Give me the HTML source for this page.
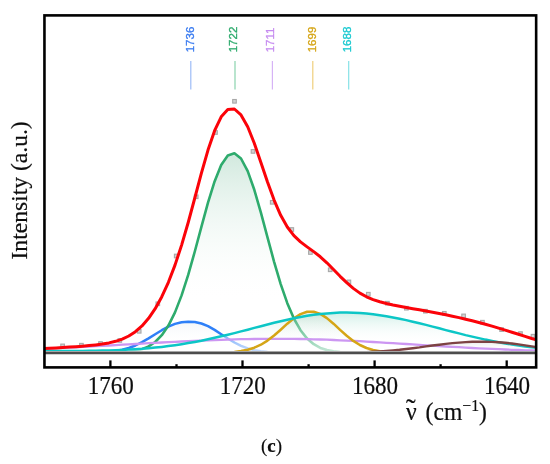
<!DOCTYPE html>
<html><head><meta charset="utf-8"><title>Figure (c)</title>
<style>
html,body{margin:0;padding:0;background:#fff;}
body{width:550px;height:464px;overflow:hidden;position:relative;font-family:"Liberation Serif",serif;}
svg{position:absolute;left:0;top:0;display:block;}
text{font-family:"Liberation Serif",serif;fill:#0d0d0d;stroke:#0d0d0d;stroke-width:0.2px;}
.pk text,text.pk{font-family:"Liberation Sans",sans-serif;font-size:11.5px;}
</style></head><body>
<svg width="550" height="464" viewBox="0 0 550 464">
<defs>
<clipPath id="cp"><rect x="44.45" y="15.4" width="491.65" height="352.00"/></clipPath>
<clipPath id="cp2"><rect x="44.45" y="15.4" width="491.65" height="335.60"/></clipPath>
<linearGradient id="g_blue" x1="0" y1="0" x2="0" y2="1"><stop offset="0" stop-color="#8fa8c8" stop-opacity="0.1"/><stop offset="0.75" stop-color="#ffffff" stop-opacity="0.0"/></linearGradient>
<linearGradient id="g_green" x1="0" y1="0" x2="0" y2="1"><stop offset="0" stop-color="#2e9a68" stop-opacity="0.22"/><stop offset="0.75" stop-color="#ffffff" stop-opacity="0.0"/></linearGradient>
<linearGradient id="g_purple" x1="0" y1="0" x2="0" y2="1"><stop offset="0" stop-color="#b090d0" stop-opacity="0.0"/><stop offset="0.75" stop-color="#ffffff" stop-opacity="0.0"/></linearGradient>
<linearGradient id="g_yellow" x1="0" y1="0" x2="0" y2="1"><stop offset="0" stop-color="#9ab090" stop-opacity="0.2"/><stop offset="0.75" stop-color="#ffffff" stop-opacity="0.0"/></linearGradient>
<linearGradient id="g_cyan" x1="0" y1="0" x2="0" y2="1"><stop offset="0" stop-color="#40c0a0" stop-opacity="0.24"/><stop offset="0.75" stop-color="#ffffff" stop-opacity="0.0"/></linearGradient>
<linearGradient id="g_brown" x1="0" y1="0" x2="0" y2="1"><stop offset="0" stop-color="#808080" stop-opacity="0.18"/><stop offset="0.75" stop-color="#ffffff" stop-opacity="0.0"/></linearGradient>
<linearGradient id="g_white" x1="0" y1="0" x2="0" y2="1"><stop offset="0" stop-color="#fff" stop-opacity="0"/><stop offset="0.25" stop-color="#fff" stop-opacity="0.15"/><stop offset="1" stop-color="#fff" stop-opacity="0.75"/></linearGradient>
</defs>
<rect width="550" height="464" fill="#fff"/>
<g clip-path="url(#cp)">
<g fill="#d2d2d2" stroke="#a8a8a8" stroke-width="1.1">
<rect x="60.8" y="344.1" width="3.6" height="3.6"/>
<rect x="79.6" y="343.4" width="3.6" height="3.6"/>
<rect x="98.7" y="341.7" width="3.6" height="3.6"/>
<rect x="118.0" y="338.7" width="3.6" height="3.6"/>
<rect x="137.4" y="329.5" width="3.6" height="3.6"/>
<rect x="156.0" y="302.0" width="3.6" height="3.6"/>
<rect x="174.4" y="254.2" width="3.6" height="3.6"/>
<rect x="194.4" y="195.0" width="3.6" height="3.6"/>
<rect x="213.7" y="130.7" width="3.6" height="3.6"/>
<rect x="232.7" y="99.5" width="3.6" height="3.6"/>
<rect x="251.2" y="149.6" width="3.6" height="3.6"/>
<rect x="270.4" y="200.5" width="3.6" height="3.6"/>
<rect x="290.0" y="227.7" width="3.6" height="3.6"/>
<rect x="308.6" y="250.7" width="3.6" height="3.6"/>
<rect x="328.4" y="268.0" width="3.6" height="3.6"/>
<rect x="347.1" y="280.1" width="3.6" height="3.6"/>
<rect x="366.5" y="292.4" width="3.6" height="3.6"/>
<rect x="385.6" y="301.4" width="3.6" height="3.6"/>
<rect x="404.6" y="306.4" width="3.6" height="3.6"/>
<rect x="423.6" y="309.4" width="3.6" height="3.6"/>
<rect x="442.5" y="311.5" width="3.6" height="3.6"/>
<rect x="461.8" y="314.1" width="3.6" height="3.6"/>
<rect x="480.6" y="320.4" width="3.6" height="3.6"/>
<rect x="499.8" y="327.8" width="3.6" height="3.6"/>
<rect x="518.7" y="331.8" width="3.6" height="3.6"/>
<rect x="531.2" y="334.4" width="3.6" height="3.6"/>
</g>
<g clip-path="url(#cp2)">
<path d="M36.3,352.8 L42.9,352.8 L49.5,352.8 L56.1,352.8 L62.7,352.8 L69.3,352.8 L75.9,352.8 L82.5,352.8 L89.1,352.7 L95.7,352.6 L102.3,352.3 L108.9,351.9 L115.6,351.1 L122.2,349.8 L128.8,348.0 L135.4,345.5 L142.0,342.2 L148.6,338.4 L155.2,334.3 L161.8,330.2 L168.4,326.7 L175.0,323.9 L181.6,322.2 L188.2,321.7 L194.8,322.0 L201.4,323.5 L208.0,326.2 L214.6,329.9 L221.2,334.2 L227.8,338.5 L234.4,342.5 L241.0,345.8 L247.7,348.4 L254.3,350.2 L260.9,351.3 L267.5,352.0 L274.1,352.4 L280.7,352.6 L287.3,352.7 L293.9,352.8 L300.5,352.8 L307.1,352.8 L313.7,352.8 L320.3,352.8 L326.9,352.8 L333.5,352.8 L340.1,352.8 L346.7,352.8 L353.3,352.8 L359.9,352.8 L366.5,352.8 L373.1,352.8 L379.8,352.8 L386.4,352.8 L393.0,352.8 L399.6,352.8 L406.2,352.8 L412.8,352.8 L419.4,352.8 L426.0,352.8 L432.6,352.8 L439.2,352.8 L445.8,352.8 L452.4,352.8 L459.0,352.8 L465.6,352.8 L472.2,352.8 L478.8,352.8 L485.4,352.8 L492.0,352.8 L498.6,352.8 L505.2,352.8 L511.9,352.8 L518.5,352.8 L525.1,352.8 L531.7,352.8 L538.3,352.8 L544.9,352.8 L544.9,352.8 L36.3,352.8 Z" fill="url(#g_blue)" stroke="none"/>
<path d="M36.3,352.8 L42.9,352.8 L49.5,352.8 L56.1,352.8 L62.7,352.8 L69.3,352.8 L75.9,352.8 L82.5,352.8 L89.1,352.7 L95.7,352.6 L102.3,352.3 L108.9,351.9 L115.6,351.1 L122.2,349.8 L128.8,348.0 L135.4,345.5 L142.0,342.2 L148.6,338.4 L155.2,334.3 L161.8,330.2 L168.4,326.7 L175.0,323.9 L181.6,322.2 L188.2,321.7 L194.8,322.0 L201.4,323.5 L208.0,326.2 L214.6,329.9 L221.2,334.2 L227.8,338.5 L234.4,342.5 L241.0,345.8 L247.7,348.4 L254.3,350.2 L260.9,351.3 L267.5,352.0 L274.1,352.4 L280.7,352.6 L287.3,352.7 L293.9,352.8 L300.5,352.8 L307.1,352.8 L313.7,352.8 L320.3,352.8 L326.9,352.8 L333.5,352.8 L340.1,352.8 L346.7,352.8 L353.3,352.8 L359.9,352.8 L366.5,352.8 L373.1,352.8 L379.8,352.8 L386.4,352.8 L393.0,352.8 L399.6,352.8 L406.2,352.8 L412.8,352.8 L419.4,352.8 L426.0,352.8 L432.6,352.8 L439.2,352.8 L445.8,352.8 L452.4,352.8 L459.0,352.8 L465.6,352.8 L472.2,352.8 L478.8,352.8 L485.4,352.8 L492.0,352.8 L498.6,352.8 L505.2,352.8 L511.9,352.8 L518.5,352.8 L525.1,352.8 L531.7,352.8 L538.3,352.8 L544.9,352.8" fill="none" stroke="#2f80f8" stroke-width="2.5" stroke-linejoin="round"/>
<path d="M36.3,352.8 L42.9,352.8 L49.5,352.8 L56.1,352.8 L62.7,352.8 L69.3,352.8 L75.9,352.8 L82.5,352.8 L89.1,352.8 L95.7,352.8 L102.3,352.8 L108.9,352.7 L115.6,352.6 L122.2,352.3 L128.8,351.8 L135.4,350.9 L142.0,349.2 L148.6,346.4 L155.2,342.0 L161.8,335.2 L168.4,325.6 L175.0,312.4 L181.6,295.4 L188.2,274.9 L194.8,251.5 L201.4,226.8 L208.0,202.7 L214.6,181.4 L221.2,165.1 L227.8,155.5 L234.4,153.3 L241.0,158.5 L247.7,171.1 L254.3,189.8 L260.9,212.6 L267.5,237.3 L274.1,261.8 L280.7,284.1 L287.3,303.2 L293.9,318.6 L300.5,330.2 L307.1,338.6 L313.7,344.2 L320.3,347.9 L326.9,350.1 L333.5,351.4 L340.1,352.1 L346.7,352.5 L353.3,352.6 L359.9,352.7 L366.5,352.8 L373.1,352.8 L379.8,352.8 L386.4,352.8 L393.0,352.8 L399.6,352.8 L406.2,352.8 L412.8,352.8 L419.4,352.8 L426.0,352.8 L432.6,352.8 L439.2,352.8 L445.8,352.8 L452.4,352.8 L459.0,352.8 L465.6,352.8 L472.2,352.8 L478.8,352.8 L485.4,352.8 L492.0,352.8 L498.6,352.8 L505.2,352.8 L511.9,352.8 L518.5,352.8 L525.1,352.8 L531.7,352.8 L538.3,352.8 L544.9,352.8 L544.9,352.8 L36.3,352.8 Z" fill="url(#g_green)" stroke="none"/>
<path d="M36.3,352.8 L42.9,352.8 L49.5,352.8 L56.1,352.8 L62.7,352.8 L69.3,352.8 L75.9,352.8 L82.5,352.8 L89.1,352.8 L95.7,352.8 L102.3,352.8 L108.9,352.7 L115.6,352.6 L122.2,352.3 L128.8,351.8 L135.4,350.9 L142.0,349.2 L148.6,346.4 L155.2,342.0 L161.8,335.2 L168.4,325.6 L175.0,312.4 L181.6,295.4 L188.2,274.9 L194.8,251.5 L201.4,226.8 L208.0,202.7 L214.6,181.4 L221.2,165.1 L227.8,155.5 L234.4,153.3 L241.0,158.5 L247.7,171.1 L254.3,189.8 L260.9,212.6 L267.5,237.3 L274.1,261.8 L280.7,284.1 L287.3,303.2 L293.9,318.6 L300.5,330.2 L307.1,338.6 L313.7,344.2 L320.3,347.9 L326.9,350.1 L333.5,351.4 L340.1,352.1 L346.7,352.5 L353.3,352.6 L359.9,352.7 L366.5,352.8 L373.1,352.8 L379.8,352.8 L386.4,352.8 L393.0,352.8 L399.6,352.8 L406.2,352.8 L412.8,352.8 L419.4,352.8 L426.0,352.8 L432.6,352.8 L439.2,352.8 L445.8,352.8 L452.4,352.8 L459.0,352.8 L465.6,352.8 L472.2,352.8 L478.8,352.8 L485.4,352.8 L492.0,352.8 L498.6,352.8 L505.2,352.8 L511.9,352.8 L518.5,352.8 L525.1,352.8 L531.7,352.8 L538.3,352.8 L544.9,352.8" fill="none" stroke="#2eab6d" stroke-width="2.6" stroke-linejoin="round"/>
<path d="M36.3,351.1 L42.9,351.1 L49.5,351.1 L56.1,351.0 L62.7,351.0 L69.3,351.0 L75.9,350.9 L82.5,350.9 L89.1,350.8 L95.7,350.7 L102.3,350.6 L108.9,350.4 L115.6,350.2 L122.2,349.9 L128.8,349.6 L135.4,349.2 L142.0,348.8 L148.6,348.2 L155.2,347.6 L161.8,346.9 L168.4,346.1 L175.0,345.2 L181.6,344.2 L188.2,343.1 L194.8,341.9 L201.4,340.7 L208.0,339.3 L214.6,337.8 L221.2,336.3 L227.8,334.7 L234.4,333.1 L241.0,331.4 L247.7,329.7 L254.3,327.9 L260.9,326.2 L267.5,324.5 L274.1,322.8 L280.7,321.2 L287.3,319.7 L293.9,318.3 L300.5,317.0 L307.1,315.8 L313.7,314.8 L320.3,314.0 L326.9,313.4 L333.5,312.9 L340.1,312.6 L346.7,312.6 L353.3,312.7 L359.9,313.0 L366.5,313.6 L373.1,314.3 L379.8,315.2 L386.4,316.2 L393.0,317.4 L399.6,318.7 L406.2,320.1 L412.8,321.7 L419.4,323.3 L426.0,324.9 L432.6,326.6 L439.2,328.3 L445.8,330.1 L452.4,331.8 L459.0,333.4 L465.6,335.1 L472.2,336.6 L478.8,338.1 L485.4,339.6 L492.0,340.9 L498.6,342.2 L505.2,343.4 L511.9,344.4 L518.5,345.5 L525.1,346.4 L531.7,347.2 L538.3,347.9 L544.9,348.6 L544.9,352.8 L36.3,352.8 Z" fill="url(#g_white)" stroke="none"/>
<path d="M36.3,351.1 L42.9,351.1 L49.5,351.1 L56.1,351.0 L62.7,351.0 L69.3,351.0 L75.9,350.9 L82.5,350.9 L89.1,350.8 L95.7,350.7 L102.3,350.6 L108.9,350.4 L115.6,350.2 L122.2,349.9 L128.8,349.6 L135.4,349.2 L142.0,348.8 L148.6,348.2 L155.2,347.6 L161.8,346.9 L168.4,346.1 L175.0,345.2 L181.6,344.2 L188.2,343.1 L194.8,341.9 L201.4,340.7 L208.0,339.3 L214.6,337.8 L221.2,336.3 L227.8,334.7 L234.4,333.1 L241.0,331.4 L247.7,329.7 L254.3,327.9 L260.9,326.2 L267.5,324.5 L274.1,322.8 L280.7,321.2 L287.3,319.7 L293.9,318.3 L300.5,317.0 L307.1,315.8 L313.7,314.8 L320.3,314.0 L326.9,313.4 L333.5,312.9 L340.1,312.6 L346.7,312.6 L353.3,312.7 L359.9,313.0 L366.5,313.6 L373.1,314.3 L379.8,315.2 L386.4,316.2 L393.0,317.4 L399.6,318.7 L406.2,320.1 L412.8,321.7 L419.4,323.3 L426.0,324.9 L432.6,326.6 L439.2,328.3 L445.8,330.1 L452.4,331.8 L459.0,333.4 L465.6,335.1 L472.2,336.6 L478.8,338.1 L485.4,339.6 L492.0,340.9 L498.6,342.2 L505.2,343.4 L511.9,344.4 L518.5,345.5 L525.1,346.4 L531.7,347.2 L538.3,347.9 L544.9,348.6 L544.9,352.8 L36.3,352.8 Z" fill="url(#g_cyan)" stroke="none"/>
<path d="M36.3,349.1 L42.9,348.8 L49.5,348.5 L56.1,348.2 L62.7,347.9 L69.3,347.6 L75.9,347.3 L82.5,346.9 L89.1,346.6 L95.7,346.2 L102.3,345.9 L108.9,345.5 L115.6,345.1 L122.2,344.7 L128.8,344.4 L135.4,344.0 L142.0,343.6 L148.6,343.2 L155.2,342.9 L161.8,342.5 L168.4,342.2 L175.0,341.8 L181.6,341.5 L188.2,341.2 L194.8,340.8 L201.4,340.6 L208.0,340.3 L214.6,340.0 L221.2,339.8 L227.8,339.6 L234.4,339.4 L241.0,339.2 L247.7,339.1 L254.3,339.0 L260.9,338.9 L267.5,338.8 L274.1,338.8 L280.7,338.8 L287.3,338.8 L293.9,338.9 L300.5,339.0 L307.1,339.1 L313.7,339.3 L320.3,339.5 L326.9,339.7 L333.5,340.0 L340.1,340.3 L346.7,340.6 L353.3,340.9 L359.9,341.2 L366.5,341.6 L373.1,342.0 L379.8,342.4 L386.4,342.8 L393.0,343.2 L399.6,343.6 L406.2,344.0 L412.8,344.4 L419.4,344.8 L426.0,345.3 L432.6,345.7 L439.2,346.1 L445.8,346.5 L452.4,346.9 L459.0,347.2 L465.6,347.6 L472.2,348.0 L478.8,348.3 L485.4,348.6 L492.0,348.9 L498.6,349.2 L505.2,349.5 L511.9,349.8 L518.5,350.0 L525.1,350.3 L531.7,350.5 L538.3,350.7 L544.9,350.9" fill="none" stroke="#cc96f2" stroke-width="2.3" stroke-linejoin="round"/>
<path d="M36.3,352.8 L42.9,352.8 L49.5,352.8 L56.1,352.8 L62.7,352.8 L69.3,352.8 L75.9,352.8 L82.5,352.8 L89.1,352.8 L95.7,352.8 L102.3,352.8 L108.9,352.8 L115.6,352.8 L122.2,352.8 L128.8,352.8 L135.4,352.8 L142.0,352.8 L148.6,352.8 L155.2,352.8 L161.8,352.8 L168.4,352.8 L175.0,352.8 L181.6,352.8 L188.2,352.8 L194.8,352.8 L201.4,352.8 L208.0,352.8 L214.6,352.7 L221.2,352.6 L227.8,352.4 L234.4,351.9 L241.0,351.1 L247.7,349.8 L254.3,347.7 L260.9,344.7 L267.5,340.6 L274.1,335.5 L280.7,329.7 L287.3,323.7 L293.9,318.3 L300.5,314.1 L307.1,311.8 L313.7,311.7 L320.3,313.9 L326.9,318.1 L333.5,323.7 L340.1,329.9 L346.7,335.8 L353.3,340.9 L359.9,345.0 L366.5,348.0 L373.1,350.0 L379.8,351.3 L386.4,352.0 L393.0,352.4 L399.6,352.6 L406.2,352.7 L412.8,352.8 L419.4,352.8 L426.0,352.8 L432.6,352.8 L439.2,352.8 L445.8,352.8 L452.4,352.8 L459.0,352.8 L465.6,352.8 L472.2,352.8 L478.8,352.8 L485.4,352.8 L492.0,352.8 L498.6,352.8 L505.2,352.8 L511.9,352.8 L518.5,352.8 L525.1,352.8 L531.7,352.8 L538.3,352.8 L544.9,352.8 L544.9,352.8 L36.3,352.8 Z" fill="url(#g_yellow)" stroke="none"/>
<path d="M36.3,352.8 L42.9,352.8 L49.5,352.8 L56.1,352.8 L62.7,352.8 L69.3,352.8 L75.9,352.8 L82.5,352.8 L89.1,352.8 L95.7,352.8 L102.3,352.8 L108.9,352.8 L115.6,352.8 L122.2,352.8 L128.8,352.8 L135.4,352.8 L142.0,352.8 L148.6,352.8 L155.2,352.8 L161.8,352.8 L168.4,352.8 L175.0,352.8 L181.6,352.8 L188.2,352.8 L194.8,352.8 L201.4,352.8 L208.0,352.8 L214.6,352.7 L221.2,352.6 L227.8,352.4 L234.4,351.9 L241.0,351.1 L247.7,349.8 L254.3,347.7 L260.9,344.7 L267.5,340.6 L274.1,335.5 L280.7,329.7 L287.3,323.7 L293.9,318.3 L300.5,314.1 L307.1,311.8 L313.7,311.7 L320.3,313.9 L326.9,318.1 L333.5,323.7 L340.1,329.9 L346.7,335.8 L353.3,340.9 L359.9,345.0 L366.5,348.0 L373.1,350.0 L379.8,351.3 L386.4,352.0 L393.0,352.4 L399.6,352.6 L406.2,352.7 L412.8,352.8 L419.4,352.8 L426.0,352.8 L432.6,352.8 L439.2,352.8 L445.8,352.8 L452.4,352.8 L459.0,352.8 L465.6,352.8 L472.2,352.8 L478.8,352.8 L485.4,352.8 L492.0,352.8 L498.6,352.8 L505.2,352.8 L511.9,352.8 L518.5,352.8 L525.1,352.8 L531.7,352.8 L538.3,352.8 L544.9,352.8" fill="none" stroke="#d5a516" stroke-width="2.5" stroke-linejoin="round"/>
<path d="M36.3,351.1 L42.9,351.1 L49.5,351.1 L56.1,351.0 L62.7,351.0 L69.3,351.0 L75.9,350.9 L82.5,350.9 L89.1,350.8 L95.7,350.7 L102.3,350.6 L108.9,350.4 L115.6,350.2 L122.2,349.9 L128.8,349.6 L135.4,349.2 L142.0,348.8 L148.6,348.2 L155.2,347.6 L161.8,346.9 L168.4,346.1 L175.0,345.2 L181.6,344.2 L188.2,343.1 L194.8,341.9 L201.4,340.7 L208.0,339.3 L214.6,337.8 L221.2,336.3 L227.8,334.7 L234.4,333.1 L241.0,331.4 L247.7,329.7 L254.3,327.9 L260.9,326.2 L267.5,324.5 L274.1,322.8 L280.7,321.2 L287.3,319.7 L293.9,318.3 L300.5,317.0 L307.1,315.8 L313.7,314.8 L320.3,314.0 L326.9,313.4 L333.5,312.9 L340.1,312.6 L346.7,312.6 L353.3,312.7 L359.9,313.0 L366.5,313.6 L373.1,314.3 L379.8,315.2 L386.4,316.2 L393.0,317.4 L399.6,318.7 L406.2,320.1 L412.8,321.7 L419.4,323.3 L426.0,324.9 L432.6,326.6 L439.2,328.3 L445.8,330.1 L452.4,331.8 L459.0,333.4 L465.6,335.1 L472.2,336.6 L478.8,338.1 L485.4,339.6 L492.0,340.9 L498.6,342.2 L505.2,343.4 L511.9,344.4 L518.5,345.5 L525.1,346.4 L531.7,347.2 L538.3,347.9 L544.9,348.6" fill="none" stroke="#0cc6c6" stroke-width="2.5" stroke-linejoin="round"/>
<path d="M36.3,352.8 L42.9,352.8 L49.5,352.8 L56.1,352.8 L62.7,352.8 L69.3,352.8 L75.9,352.8 L82.5,352.8 L89.1,352.8 L95.7,352.8 L102.3,352.8 L108.9,352.8 L115.6,352.8 L122.2,352.8 L128.8,352.8 L135.4,352.8 L142.0,352.8 L148.6,352.8 L155.2,352.8 L161.8,352.8 L168.4,352.8 L175.0,352.8 L181.6,352.8 L188.2,352.8 L194.8,352.8 L201.4,352.8 L208.0,352.8 L214.6,352.8 L221.2,352.8 L227.8,352.8 L234.4,352.8 L241.0,352.8 L247.7,352.8 L254.3,352.8 L260.9,352.8 L267.5,352.8 L274.1,352.8 L280.7,352.8 L287.3,352.8 L293.9,352.8 L300.5,352.8 L307.1,352.8 L313.7,352.8 L320.3,352.8 L326.9,352.7 L333.5,352.7 L340.1,352.6 L346.7,352.6 L353.3,352.4 L359.9,352.3 L366.5,352.1 L373.1,351.8 L379.8,351.4 L386.4,350.9 L393.0,350.4 L399.6,349.8 L406.2,349.0 L412.8,348.2 L419.4,347.4 L426.0,346.4 L432.6,345.5 L439.2,344.7 L445.8,343.9 L452.4,343.1 L459.0,342.6 L465.6,342.1 L472.2,341.8 L478.8,341.7 L485.4,341.7 L492.0,341.9 L498.6,342.2 L505.2,342.8 L511.9,343.5 L518.5,344.4 L525.1,345.4 L531.7,346.4 L538.3,347.4 L544.9,348.4 L544.9,352.8 L36.3,352.8 Z" fill="url(#g_brown)" stroke="none"/>
<path d="M36.3,352.8 L42.9,352.8 L49.5,352.8 L56.1,352.8 L62.7,352.8 L69.3,352.8 L75.9,352.8 L82.5,352.8 L89.1,352.8 L95.7,352.8 L102.3,352.8 L108.9,352.8 L115.6,352.8 L122.2,352.8 L128.8,352.8 L135.4,352.8 L142.0,352.8 L148.6,352.8 L155.2,352.8 L161.8,352.8 L168.4,352.8 L175.0,352.8 L181.6,352.8 L188.2,352.8 L194.8,352.8 L201.4,352.8 L208.0,352.8 L214.6,352.8 L221.2,352.8 L227.8,352.8 L234.4,352.8 L241.0,352.8 L247.7,352.8 L254.3,352.8 L260.9,352.8 L267.5,352.8 L274.1,352.8 L280.7,352.8 L287.3,352.8 L293.9,352.8 L300.5,352.8 L307.1,352.8 L313.7,352.8 L320.3,352.8 L326.9,352.7 L333.5,352.7 L340.1,352.6 L346.7,352.6 L353.3,352.4 L359.9,352.3 L366.5,352.1 L373.1,351.8 L379.8,351.4 L386.4,350.9 L393.0,350.4 L399.6,349.8 L406.2,349.0 L412.8,348.2 L419.4,347.4 L426.0,346.4 L432.6,345.5 L439.2,344.7 L445.8,343.9 L452.4,343.1 L459.0,342.6 L465.6,342.1 L472.2,341.8 L478.8,341.7 L485.4,341.7 L492.0,341.9 L498.6,342.2 L505.2,342.8 L511.9,343.5 L518.5,344.4 L525.1,345.4 L531.7,346.4 L538.3,347.4 L544.9,348.4" fill="none" stroke="#7d4343" stroke-width="2.4" stroke-linejoin="round"/>
</g>
<path d="M36.3,348.9 L42.9,348.6 L49.5,348.3 L56.1,347.9 L62.7,347.5 L69.3,347.1 L75.9,346.7 L82.5,346.2 L89.1,345.6 L95.7,344.9 L102.3,344.1 L108.9,342.9 L115.6,341.3 L122.2,339.1 L128.8,336.0 L135.4,331.7 L142.0,325.9 L148.6,318.3 L155.2,308.7 L161.8,296.7 L168.4,282.3 L175.0,265.1 L181.6,245.1 L188.2,222.5 L194.8,198.0 L201.4,173.2 L208.0,150.1 L214.6,130.7 L221.2,116.8 L227.8,109.5 L234.4,109.0 L241.0,114.9 L247.7,126.8 L254.3,143.3 L260.9,162.5 L267.5,182.1 L274.1,200.1 L280.7,215.3 L287.3,227.0 L293.9,235.6 L300.5,241.9 L307.1,246.9 L313.7,251.6 L320.3,256.8 L326.9,262.8 L333.5,269.5 L340.1,276.3 L346.7,282.7 L353.3,288.4 L359.9,293.1 L366.5,296.8 L373.1,299.6 L379.8,301.8 L386.4,303.5 L393.0,305.0 L399.6,306.3 L406.2,307.5 L412.8,308.7 L419.4,309.8 L426.0,311.0 L432.6,312.2 L439.2,313.5 L445.8,314.8 L452.4,316.2 L459.0,317.6 L465.6,319.2 L472.2,320.8 L478.8,322.5 L485.4,324.3 L492.0,326.1 L498.6,328.1 L505.2,330.1 L511.9,332.2 L518.5,334.3 L525.1,336.4 L531.7,338.5 L538.3,340.4 L544.9,342.3" fill="none" stroke="#fb0309" stroke-width="3.0" stroke-linejoin="round"/>
<line x1="44.45" x2="536.1" y1="352.95" y2="352.95" stroke="#4d4d4d" stroke-width="2.7"/>
</g>
<rect x="44.45" y="15.4" width="491.7" height="352.0" fill="none" stroke="#000" stroke-width="2.6"/>
<g stroke="#000" stroke-width="2.3">
<line x1="110.4" x2="110.4" y1="367.4" y2="360.4"/>
<line x1="242.5" x2="242.5" y1="367.4" y2="360.4"/>
<line x1="374.6" x2="374.6" y1="367.4" y2="360.4"/>
<line x1="506.7" x2="506.7" y1="367.4" y2="360.4"/>
<line x1="176.5" x2="176.5" y1="367.4" y2="364.2"/>
<line x1="308.6" x2="308.6" y1="367.4" y2="364.2"/>
<line x1="440.6" x2="440.6" y1="367.4" y2="364.2"/>
</g>
<g font-size="24" text-anchor="middle">
<text transform="translate(110.7,393.8) scale(0.96,1.075)">1760</text>
<text transform="translate(242.8,393.8) scale(0.96,1.075)">1720</text>
<text transform="translate(374.9,393.8) scale(0.96,1.075)">1680</text>
<text transform="translate(507.0,393.8) scale(0.96,1.075)">1640</text>
</g>
<line x1="190.8" x2="190.8" y1="61" y2="89.5" stroke="#9dbcf7" stroke-width="1.2"/>
<text class="pk" transform="translate(193.5,52.3) rotate(-90)" style="fill:#3b7cf0;stroke:#3b7cf0;stroke-width:0.35px">1736</text>
<line x1="235" x2="235" y1="61" y2="89.5" stroke="#8ad3ae" stroke-width="1.2"/>
<text class="pk" transform="translate(237.1,52.3) rotate(-90)" style="fill:#2eab6d;stroke:#2eab6d;stroke-width:0.35px">1722</text>
<line x1="272.4" x2="272.4" y1="61" y2="89.5" stroke="#d6b3f6" stroke-width="1.2"/>
<text class="pk" transform="translate(274.0,52.3) rotate(-90)" style="fill:#c68cf0;stroke:#c68cf0;stroke-width:0.35px">1711</text>
<line x1="312.8" x2="312.8" y1="61" y2="89.5" stroke="#efcf7c" stroke-width="1.2"/>
<text class="pk" transform="translate(316.0,52.3) rotate(-90)" style="fill:#d5a516;stroke:#d5a516;stroke-width:0.35px">1699</text>
<line x1="348.7" x2="348.7" y1="61" y2="89.5" stroke="#86e2e6" stroke-width="1.2"/>
<text class="pk" transform="translate(351.4,52.3) rotate(-90)" style="fill:#19c9d0;stroke:#19c9d0;stroke-width:0.35px">1688</text>
<text font-size="24" text-anchor="middle" transform="translate(27.2,190.4) rotate(-90) scale(0.983,0.975)">Intensity (a.u.)</text>
<text font-size="24" transform="translate(406,420) scale(0.985,1.075)">ν</text>
<text font-size="24" transform="translate(405.9,418.3) scale(1.2,1.1)">˜</text>
<text font-size="24" transform="translate(425.6,420) scale(0.985,1.075)">(cm<tspan font-size="16" dy="-8.6">−1</tspan><tspan dy="8.6">)</tspan></text>
<text font-size="19" x="261" y="452" style="stroke-width:0.15px">(<tspan font-weight="bold">c</tspan>)</text>
</svg></body></html>
